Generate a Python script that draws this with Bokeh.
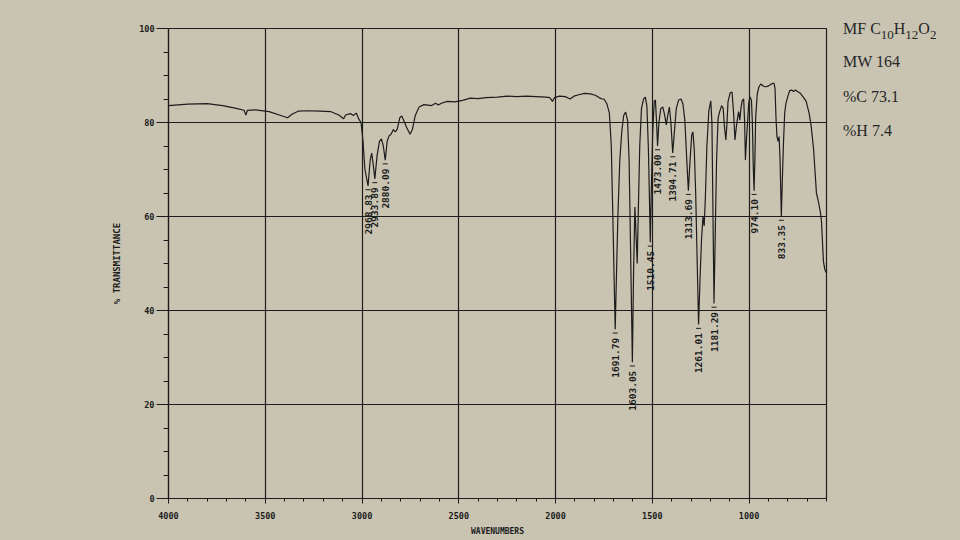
import numpy as np
from bokeh.plotting import figure
from bokeh.layouts import row
from bokeh.models import Range1d, FixedTicker, Div
from bokeh.core.properties import value
from bokeh.embed import file_html
from bokeh.resources import INLINE

# ---- data ----
wavenumber = [
    4000, 3900, 3800, 3720, 3650, 3610, 3600, 3592, 3550, 3480, 3420, 3385, 3360, 3330,
    3280, 3220, 3160, 3120, 3095, 3085, 3060, 3045, 3030, 3015, 3005, 2995, 2985,
    2968.83, 2958, 2950, 2942, 2933.89, 2922, 2910, 2900, 2890, 2880.09, 2870, 2860,
    2850, 2838, 2828, 2818, 2805, 2795, 2785, 2770, 2752, 2740, 2725, 2705, 2680, 2640,
    2620, 2605, 2590, 2560, 2520, 2480, 2440, 2400, 2360, 2300, 2250, 2200, 2150, 2100,
    2050, 2030, 2016, 2005, 1980, 1950, 1925, 1905, 1880, 1850, 1820, 1795, 1775, 1760,
    1750, 1735, 1722, 1712, 1704, 1698, 1691.79, 1685, 1678, 1668, 1658, 1648, 1638,
    1628, 1620, 1612, 1603.05, 1597, 1590, 1584, 1578, 1572, 1565, 1556, 1545, 1536,
    1528, 1520, 1515, 1510.45, 1505, 1498, 1490, 1484, 1478, 1473.00, 1466, 1456, 1446,
    1436, 1428, 1420, 1412, 1404, 1394.71, 1386, 1376, 1364, 1352, 1342, 1332, 1322,
    1313.69, 1305, 1296, 1290, 1283, 1276, 1268, 1261.01, 1254, 1246, 1238, 1232, 1226,
    1218, 1208, 1198, 1192, 1187, 1181.29, 1175, 1168, 1160, 1152, 1142, 1134, 1127,
    1120, 1114, 1109, 1098, 1088, 1080, 1073, 1066, 1061, 1054, 1048, 1042, 1036, 1028,
    1023, 1019, 1014, 1008, 1002, 996, 988, 983, 978, 974.10, 970, 966, 958, 950, 940,
    925, 910, 895, 880, 872, 866, 861, 856, 850, 845, 840, 833.35, 828, 822, 816, 810,
    800, 790, 780, 770, 760, 750, 735, 720, 705, 690, 680, 667, 652, 641, 632, 626, 616,
    608, 600,
]
transmittance = [
    83.6, 83.9, 84.0, 83.6, 83.0, 82.6, 81.6, 82.6, 82.7, 82.3, 81.5, 81.0, 81.8, 82.4,
    82.5, 82.4, 82.3, 81.6, 80.8, 81.6, 81.9, 81.5, 82.0, 80.6, 80.0, 76.0, 70.0,
    66.5, 72.0, 73.5, 71.0, 68.0, 73.0, 76.0, 76.5, 75.0, 72.0, 76.0, 77.2,
    77.5, 78.5, 78.0, 78.6, 81.0, 81.4, 80.5, 79.0, 77.5, 78.5, 81.5, 83.3, 83.8, 83.6,
    84.1, 83.7, 84.1, 84.5, 84.4, 84.7, 85.2, 85.1, 85.3, 85.4, 85.6, 85.5, 85.6, 85.5,
    85.4, 85.3, 84.5, 85.3, 85.6, 85.5, 85.0, 85.6, 85.9, 86.2, 86.1, 85.8, 85.3, 85.0,
    85.0, 84.0, 82.0, 75.0, 60.0, 48.0, 36.0, 48.0, 60.0, 72.0, 78.0, 81.5, 82.2,
    80.5, 72.0, 52.0, 29.0, 48.0, 62.0, 56.0, 50.0, 62.0, 75.0, 83.0, 85.0, 85.4,
    83.5, 74.0, 64.0, 54.5, 66.0, 78.0, 84.5, 84.8, 80.0, 75.0, 80.0, 83.0, 83.3,
    81.5, 79.5, 81.5, 83.3, 80.0, 73.5, 78.0, 83.0, 84.8, 85.0, 84.0, 80.5, 72.0,
    65.5, 72.0, 77.5, 78.0, 74.0, 65.0, 50.0, 37.0, 46.0, 55.0, 60.0, 58.0, 64.0,
    75.0, 82.5, 84.6, 80.0, 62.0, 41.5, 56.0, 72.0, 81.0, 82.3, 83.6, 83.0, 79.0,
    76.3, 80.0, 84.4, 86.3, 86.5, 82.0, 76.3, 79.0, 80.5, 82.3, 80.5, 83.0, 84.6, 85.0,
    80.0, 72.0, 76.0, 80.0, 84.0, 85.5, 84.8, 80.0, 70.0, 65.5, 72.0, 81.0, 86.0, 87.5, 88.2,
    87.7, 87.6, 87.9, 88.3, 88.4, 87.3, 81.0, 77.0, 76.0, 77.0, 72.0, 60.0, 68.0, 76.0, 82.0, 84.0,
    85.5, 86.8, 86.9, 86.6, 86.9, 86.6, 86.2, 85.4, 84.5, 82.0, 79.5, 74.5, 65.0, 63.0, 61.0, 59.0, 50.5,
    48.6, 48.0,
]
peak_wn = [2968.83, 2933.89, 2880.09, 1691.79, 1603.05, 1510.45, 1473.00, 1394.71,
           1313.69, 1261.01, 1181.29, 974.10, 833.35]
peak_labels = ["2968.83", "2933.89", "2880.09", "1691.79", "1603.05", "1510.45", "1473.00",
               "1394.71", "1313.69", "1261.01", "1181.29", "974.10", "833.35"]
x_ticks = [4000, 3500, 3000, 2500, 2000, 1500, 1000]
x_grid = [3500, 3000, 2500, 2000, 1500, 1000]
y_ticks = [0, 20, 40, 60, 80, 100]
y_grid = [20, 40, 60, 80]
formula_html = "MF C<span class='s'>10</span>H<span class='s'>12</span>O<span class='s'>2</span>"
info_lines = ["MW 164", "%C 73.1", "%H 7.4"]

# ---- styling ----
PAPER = "#c9c4b2"
INK = "#1c1c1c"
TXT = "#262626"
MONO = "DejaVu Sans Mono"
SERIF = "Liberation Serif"

MAIN_W, SIDE_W, H = 832, 128, 540
TOP, BOTTOM = 28, 42

p = figure(width=MAIN_W, height=H, output_backend="svg", toolbar_location=None,
           x_range=Range1d(4000, 600), y_range=Range1d(0, 100),
           min_border_left=168, min_border_right=6, min_border_top=TOP,
           min_border_bottom=BOTTOM,
           background_fill_color=PAPER, border_fill_color=PAPER,
           outline_line_color=INK, outline_line_width=1.2)

# axes
p.xaxis.ticker = FixedTicker(ticks=x_ticks, minor_ticks=list(range(600, 4001, 100)))
p.yaxis.ticker = FixedTicker(ticks=y_ticks, minor_ticks=list(range(0, 101, 5)))
for ax in (p.xaxis, p.yaxis):
    ax.axis_line_color = INK
    ax.axis_line_width = 1.2
    ax.major_tick_line_color = INK
    ax.minor_tick_line_color = INK
    ax.major_tick_in = 0
    ax.minor_tick_in = 0
    ax.major_label_text_font = MONO
    ax.major_label_text_font_style = "bold"
    ax.major_label_text_color = INK
    ax.axis_label_text_font = MONO
    ax.axis_label_text_font_style = "bold"
    ax.axis_label_text_color = INK
p.xaxis.major_tick_out = 5
p.xaxis.minor_tick_out = 3
p.xaxis.major_label_text_font_size = "8.5px"
p.xaxis.major_label_standoff = 8
p.xaxis.axis_label = "WAVENUMBERS"
p.xaxis.axis_label_text_font_size = "8px"
p.xaxis.axis_label_standoff = 5
p.yaxis.major_tick_out = 12
p.yaxis.minor_tick_out = 5
p.yaxis.major_label_text_font_size = "8.5px"
p.yaxis.major_label_standoff = 2
p.yaxis.axis_label = "% TRANSMITTANCE"
p.yaxis.axis_label_text_font_size = "9px"
p.yaxis.axis_label_standoff = 14

# grid
p.xgrid.ticker = FixedTicker(ticks=x_grid)
p.ygrid.ticker = FixedTicker(ticks=y_grid)
for g in (p.xgrid, p.ygrid):
    g.grid_line_color = INK
    g.grid_line_alpha = 1.0
    g.grid_line_width = 1.2

# spectrum
p.line(wavenumber, transmittance, line_color=INK, line_width=1.2)

# peak annotations
wn_arr = np.array(wavenumber)[::-1]
t_arr = np.array(transmittance)[::-1]
tips = np.interp(peak_wn, wn_arr, t_arr)
p.scatter(peak_wn, tips - 0.8, marker="dash", size=5, line_color=INK, line_width=1)
p.text(x=peak_wn, y=tips - 1.8, text=peak_labels, angle=np.pi / 2,
       text_align="right", text_baseline="middle", text_font=value(MONO),
       text_font_size="9.5px", text_font_style="bold", text_color=INK)

# ---- right-hand info block ----
line_tops = [20, 53, 88, 122]
spans = [formula_html] + info_lines
inner = "".join(
    "<div style='position:absolute;left:11px;top:%dpx;white-space:nowrap;'>%s</div>" % (t, s)
    for t, s in zip(line_tops, spans)
)
side_html = (
    "<style>.s{font-size:13px;position:relative;top:5px;}</style>"
    "<div style=\"position:relative;width:%dpx;height:%dpx;background:%s;"
    "font-family:'%s';font-size:16px;line-height:18px;color:%s;\">%s</div>"
    % (SIDE_W, H, PAPER, SERIF, TXT, inner)
)
side = Div(text=side_html, width=SIDE_W, height=H, margin=0,
           styles={"background-color": PAPER})

layout = row(p, side, spacing=0)
html = file_html(layout, INLINE)
i = html.rfind("<body")
if i >= 0:
    html = html[:i + 5] + ' style="background-color:%s;margin:0"' % PAPER + html[i + 5:]
open("out.html", "w").write(html)
